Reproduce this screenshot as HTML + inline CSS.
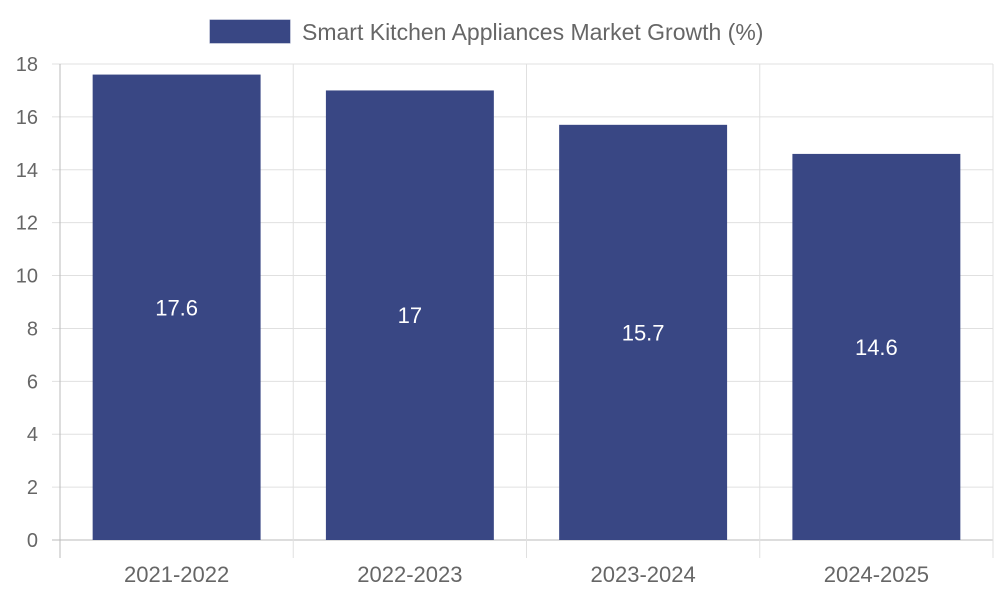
<!DOCTYPE html>
<html><head><meta charset="utf-8"><style>
body{margin:0;background:#fff;}
svg text{font-family:"Liberation Sans",sans-serif;}
</style></head><body>
<svg id="chart" width="1000" height="600" xmlns="http://www.w3.org/2000/svg">
<g>
<rect x="210" y="20" width="80" height="23" fill="#394784" stroke="#394784" stroke-opacity="0.6"/>
<text x="302" y="40" font-size="23" fill="#666">Smart Kitchen Appliances Market Growth (%)</text>
</g>
<g id="grid"></g><g id="bars"></g><g id="axes"></g>
</svg>
<script>
const categories=["2021-2022","2022-2023","2023-2024","2024-2025"];
const values=[17.6,17,15.7,14.6];
const yTicks=[0,2,4,6,8,10,12,14,16,18];
const L=60,R=993,T=64,B=540,yMax=18;
const ns="http://www.w3.org/2000/svg";
const y=v=>B-(v/yMax)*(B-T);
const bw=(R-L)/categories.length;
const x=i=>L+bw*i;
function mk(tag,attrs,parent,txt){const e=document.createElementNS(ns,tag);for(const k in attrs)e.setAttribute(k,attrs[k]);if(txt!==undefined)e.textContent=txt;document.getElementById(parent).appendChild(e);return e;}
yTicks.forEach(t=>{
 const g=mk('line',{x1:L-8,x2:R,y1:y(t),y2:y(t),stroke:t===0?'#bbb':'#e0e0e0','stroke-width':1},'grid');
 
 
 const lb=mk('text',{x:L-22,y:y(t)+7,'font-size':20,fill:'#666','text-anchor':'end'},'axes',t);
 
 
});
for(let i=0;i<=categories.length;i++){
 const g=mk('line',{x1:x(i),x2:x(i),y1:T,y2:B+18,stroke:i===0?'#bbb':'#e0e0e0','stroke-width':1},'grid');
 
 
}
categories.forEach((c,i)=>{
 const w=bw*0.72,cx=x(i)+bw/2;
 const r=mk('rect',{x:cx-w/2,y:y(values[i]),width:w,height:B-y(values[i]),fill:'#394784'},'bars');
 
 
 const v=mk('text',{x:cx,y:(y(values[i])+B)/2+8,'font-size':22,fill:'#fff','text-anchor':'middle'},'bars',values[i]);
 
 
 const lb=mk('text',{x:cx,y:582,'font-size':22,fill:'#666','text-anchor':'middle'},'axes',c);
 
 
});
</script>
</body></html>
